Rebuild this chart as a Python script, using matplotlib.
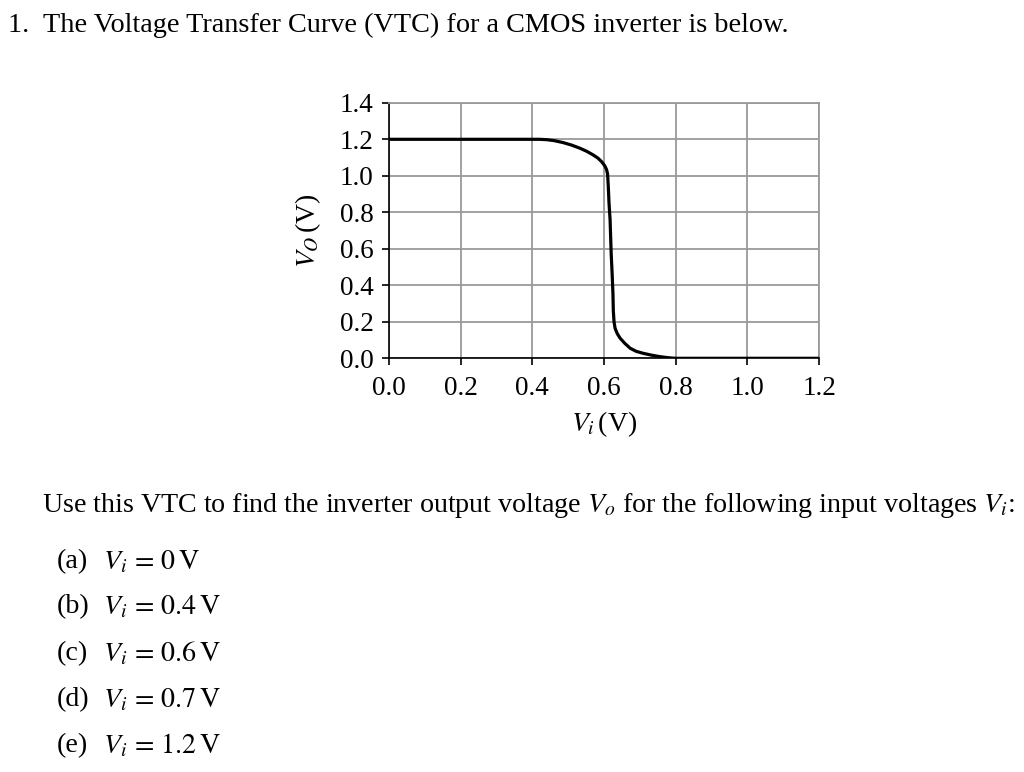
import matplotlib
matplotlib.use("Agg")
import matplotlib.pyplot as plt

plt.rcParams['font.family'] = ['Liberation Serif', 'DejaVu Serif']
plt.rcParams['mathtext.fontset'] = 'stix'

# VTC
vi = [0.0, 0.2, 0.40, 0.42, 0.44, 0.46, 0.486, 0.51, 0.533, 0.552, 0.570, 0.583,
      0.593, 0.602, 0.607, 0.610, 0.612, 0.614, 0.617, 0.620, 0.623, 0.625,
      0.626, 0.628, 0.631, 0.637, 0.645, 0.658, 0.673, 0.690, 0.710, 0.733,
      0.756, 0.780, 0.80, 1.0, 1.2]
vo = [1.2, 1.2, 1.2, 1.2, 1.198, 1.193, 1.182, 1.168, 1.151, 1.134, 1.114, 1.097,
      1.078, 1.055, 1.035, 1.010, 0.94, 0.85, 0.758, 0.575, 0.45, 0.35,
      0.26, 0.20, 0.164, 0.135, 0.110, 0.082, 0.055, 0.038, 0.027, 0.017,
      0.009, 0.003, 0.0, 0.0, 0.0]

xticks = [0.0, 0.2, 0.4, 0.6, 0.8, 1.0, 1.2]
yticks = [0.0, 0.2, 0.4, 0.6, 0.8, 1.0, 1.2, 1.4]

title = "1.  The Voltage Transfer Curve (VTC) for a CMOS inverter is below."
question = r"Use this VTC to find the inverter output voltage $V_o$ for the following input voltages $V_i$:"
parts = ["(a)", "(b)", "(c)", "(d)", "(e)"]
inputs = ["0", "0.4", "0.6", "0.7", "1.2"]

W, H = 1024, 772
fig = plt.figure(figsize=(W / 100, H / 100), dpi=100)

x0, x1, y0, y1 = 388.9, 819.1, 358.3, 102.8
ax = fig.add_axes([x0 / W, 1 - y0 / H, (x1 - x0) / W, (y0 - y1) / H])
ax.plot(vi, vo, color='black', lw=2.3, solid_capstyle='butt', zorder=3)
ax.set_xlim(0, 1.2)
ax.set_ylim(0, 1.4)
ax.set_xticks(xticks)
ax.set_yticks(yticks)
ax.set_xticklabels([f"{t:.1f}" for t in xticks])
ax.set_yticklabels([f"{t:.1f}" for t in yticks])
ax.grid(True, color='#9a9a9a', lw=1.3)
ax.set_axisbelow(True)
for s in ['top', 'right']:
    ax.spines[s].set_color('#9a9a9a')
    ax.spines[s].set_linewidth(1.3)
for s in ['left', 'bottom']:
    ax.spines[s].set_color('black')
    ax.spines[s].set_linewidth(1.2)
ax.tick_params(direction='out', length=5, width=1.2, labelsize=19.5)
ax.tick_params(axis='x', pad=8)
ax.tick_params(axis='y', pad=6)
ax.set_xlabel(r"$V_i\,$(V)", fontsize=20, labelpad=6)
ax.set_ylabel(r"$V_O\,$(V)", fontsize=20, labelpad=12)

fig.text(8 / W, 1 - 25 / H, title, fontsize=20.3, va='center', ha='left')
fig.text(42 / W, 1 - 505 / H, question, fontsize=20.2, va='center', ha='left')

ys = [562, 607, 654, 700, 746]
for p, v, y in zip(parts, inputs, ys):
    fig.text(57 / W, 1 - y / H, p, fontsize=20.2, va='center', ha='left')
    fig.text(103 / W, 1 - y / H, r"$V_i\,=\," + v + r"\,\mathrm{V}$", fontsize=20.2,
             va='center', ha='left')

fig.savefig("out.png", dpi=100)
